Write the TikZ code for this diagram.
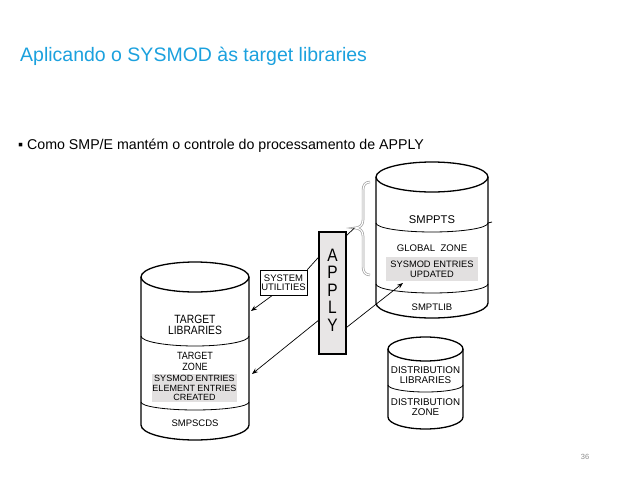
\documentclass[tikz,border=0pt]{standalone}
\usepackage{fontspec}
\setmainfont{Liberation Sans}
\newfontfamily\narrowfont{Liberation Sans}[FakeStretch=0.86]
\usetikzlibrary{arrows.meta}
\definecolor{titlecyan}{RGB}{27,161,222}
\definecolor{boxgray}{RGB}{226,224,224}
\definecolor{applygray}{RGB}{232,230,230}
\definecolor{bracegray}{RGB}{160,160,160}
\definecolor{numgray}{RGB}{140,140,140}
\tikzset{
  cyl/.style={line width=1.3pt},
  divline/.style={line width=0.8pt},
  lbl/.style={inner sep=0pt, align=center},
  graybox/.style={fill=boxgray, inner sep=0pt, align=center},
  conn/.style={line width=0.7pt},
  arr/.style={conn, -{Stealth[length=6pt,width=4.5pt]}},
  bracestyle/.style={draw=bracegray, line width=0.7pt, double=white, double distance=1.1pt},
}
\begin{document}
\begin{tikzpicture}[x=1pt,y=1pt]
\fill[white] (0,0) rectangle (638,-479);
\useasboundingbox (0,0) rectangle (638,-479);

% title and bullet
\node[anchor=base west, inner sep=0pt, text=titlecyan, font=\fontsize{19.5}{23}\selectfont] (title) at (20,-61.5) {Aplicando o SYSMOD às target libraries};
\node[anchor=base west, inner sep=0pt, font=\fontsize{14.2}{16}\selectfont] (bullet) at (18,-149) {▪ Como SMP/E mantém o controle do processamento de APPLY};
\node[lbl, text=numgray, font=\fontsize{7.5}{9}\selectfont] (pg) at (585,-457) {36};

% left cylinder (target)
\draw[cyl] (141,-277) -- (141,-425) arc[start angle=180,end angle=360,x radius=54,y radius=15] -- (249,-277);
\draw[cyl] (195,-277) ellipse[x radius=54,y radius=15];
\draw[divline] (141,-336) arc[start angle=180,end angle=360,x radius=54,y radius=10];
\draw[divline] (141,-402) arc[start angle=180,end angle=360,x radius=54,y radius=8];
\node[lbl, font=\narrowfont\fontsize{12}{11}\selectfont] (tlib) at (195,-325) {TARGET\\LIBRARIES};
\node[lbl, font=\narrowfont\fontsize{10.5}{11}\selectfont] (tzone) at (195,-361) {TARGET\\ZONE};
\node[graybox, minimum width=85pt, minimum height=28pt, font=\fontsize{9}{9.5}\selectfont] (lgray) at (194.5,-388) {SYSMOD ENTRIES\\ELEMENT ENTRIES\\CREATED};
\node[lbl, font=\fontsize{9.5}{11}\selectfont] (scds) at (195,-423) {SMPSCDS};

% right cylinder (global)
\draw[cyl] (376,-177) -- (376,-303) arc[start angle=180,end angle=360,x radius=56,y radius=15] -- (488,-177);
\draw[cyl] (432,-177) ellipse[x radius=56,y radius=15];
\draw[divline] (376,-223) arc[start angle=180,end angle=360,x radius=56,y radius=9] -- (492,-222);
\draw[divline] (376,-284) arc[start angle=180,end angle=360,x radius=56,y radius=9];
\node[lbl, font=\fontsize{11.2}{12}\selectfont] (ppts) at (432,-220) {SMPPTS};
\node[lbl, font=\fontsize{9.6}{11}\selectfont] (gzone) at (432,-248) {GLOBAL\ \ ZONE};
\node[graybox, minimum width=92pt, minimum height=24pt, font=\fontsize{9.3}{10}\selectfont] (rgray) at (432,-269) {SYSMOD ENTRIES\\UPDATED};
\node[lbl, font=\fontsize{9.5}{11}\selectfont] (tlibn) at (432,-307) {SMPTLIB};

% distribution cylinder
\draw[cyl] (388,-349) -- (388,-417) arc[start angle=180,end angle=360,x radius=37.5,y radius=12] -- (463,-349);
\draw[cyl] (425.5,-349) ellipse[x radius=37.5,y radius=12];
\draw[divline] (388,-385) arc[start angle=180,end angle=360,x radius=37.5,y radius=7];
\node[lbl, font=\fontsize{9.8}{10}\selectfont] (dlib) at (425.5,-375) {DISTRIBUTION\\LIBRARIES};
\node[lbl, font=\fontsize{9.8}{10}\selectfont] (dzone) at (425.5,-407.5) {DISTRIBUTION\\ZONE};

% system utilities
\node[draw, line width=0.6pt, fill=white, minimum width=47pt, minimum height=25pt, inner sep=0pt, align=center, font=\fontsize{9.5}{9.5}\selectfont] (sysu) at (283.5,-282.5) {SYSTEM\\UTILITIES};

% apply box
\node[draw, line width=1.2pt, fill=applygray, minimum width=27pt, minimum height=122pt, inner sep=0pt] (apply) at (332.5,-293) {};
\node[lbl, font=\narrowfont\fontsize{18}{17.5}\selectfont] (applytxt) at (332.5,-290) {A\\P\\P\\L\\Y};

% brace
\coordinate (bracetip) at (354.5,-228);
\draw[bracestyle] (370,-182) .. controls (365.5,-182) and (363,-185) .. (363,-190) -- (363,-220)
  .. controls (363,-225) and (360,-228) .. (bracetip)
  .. controls (360,-228) and (363,-231) .. (363,-236) -- (363,-267)
  .. controls (363,-272) and (365.5,-275) .. (370,-275);

% connectors
\coordinate (tl1) at (251,-311);
\coordinate (tl2) at (252,-374);
\coordinate (rg1) at (403,-283);
\draw[conn] ([yshift=-26pt]apply.north west) -- (sysu.north east);
\draw[conn] ([yshift=-4pt]apply.north east) -- (bracetip);
\draw[arr] ([xshift=-11pt]sysu.south) -- (tl1);
\draw[arr] ([yshift=-89pt]apply.north west) -- (tl2);
\draw[arr] ([yshift=-96pt]apply.north east) -- (rg1);
\end{tikzpicture}
\end{document}
